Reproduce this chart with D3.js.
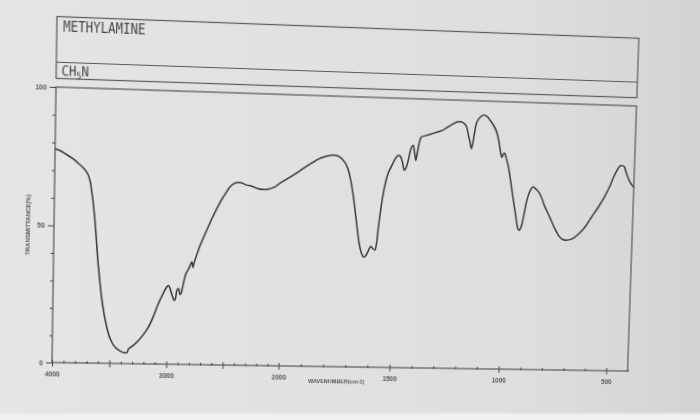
<!DOCTYPE html>
<html>
<head>
<meta charset="utf-8">
<title>methylamine IR</title>
<script src="https://d3js.org/d3.v7.min.js"></script>
<style>
  html, body { margin: 0; padding: 0; }
  body {
    width: 700px; height: 420px; overflow: hidden; position: relative;
    background:
      linear-gradient(to bottom, rgba(244,244,243,0) 412px, #f1f1f0 415px),
      linear-gradient(to right, #e4e6e3 0%, #dddfdc 75%, #d2d4d1 100%);
  }
  #mainsvg { position: absolute; left: 0; top: 0; transform-origin: 0 0; }
</style>
</head>
<body>
<svg width="800" height="520" id="mainsvg"></svg>
<script>
  // spectrum: wavenumber (cm-1) -> transmittance (%)
  const wavenumbers = [4000, 3950, 3910, 3850, 3805, 3750, 3714, 3690, 3682, 3665, 3650, 3637, 3611, 3590, 3577,
    3550, 3527, 3495, 3464, 3430, 3403, 3370, 3345, 3335, 3300, 3254, 3210, 3163, 3120, 3080, 3040, 3005, 2990,
    2975, 2955, 2940, 2930, 2915, 2902, 2890, 2880, 2870, 2860, 2840, 2820, 2805, 2790, 2780, 2770, 2740, 2715,
    2670, 2629, 2585, 2543, 2500, 2455, 2410, 2367, 2320, 2278, 2220, 2157, 2110, 2066, 2020, 1975, 1940, 1900,
    1870, 1844, 1810, 1784, 1760, 1745, 1723, 1710, 1700, 1685, 1667, 1651, 1640, 1630, 1622, 1612, 1603, 1598,
    1590, 1580, 1572, 1566, 1548, 1529, 1510, 1498, 1485, 1475, 1465, 1456, 1448, 1439, 1427, 1419, 1412, 1405,
    1398, 1390, 1383, 1360, 1324, 1290, 1265, 1240, 1220, 1195, 1180, 1170, 1160, 1154, 1148, 1140, 1132, 1115,
    1100, 1085, 1070, 1055, 1040, 1030, 1020, 1014, 1008, 1002, 995, 982, 963, 944, 930, 924, 916, 905, 893,
    880, 866, 852, 835, 810, 786, 760, 737, 720, 707, 680, 655, 620, 591, 560, 535, 510, 495, 480, 467, 455,
    448, 440, 427, 415, 400];
  const transmittance = [77.7, 77, 76, 74.5, 73, 71, 69, 66, 64, 59.3, 54, 48.4, 36.3, 28.5, 24.1,
    17.5, 13.2, 9, 6.6, 5.2, 4.5, 4.0, 4.1, 5.3, 6.5, 8.3, 10.5, 13.5, 17.5, 22.1, 25.8, 28.5, 28.9,
    27.5, 25, 23.5, 24, 27.5, 27.9, 25.8, 26.1, 27.9, 30, 33.5, 35, 36.5, 37.8, 35.8, 37.5, 41.5, 44.4,
    49, 53, 57, 60.5, 63.5, 66.2, 67.3, 67.3, 66.5, 66.2, 65.3, 65, 65.4, 66.1, 67.6, 69.4, 71.3, 73.7,
    75.3, 76.7, 77.8, 78.3, 78.2, 77.6, 75.7, 73.5, 70.7, 64.7, 54.7, 46, 42.5, 41, 41.3, 42.8, 44.5, 45,
    44.3, 43.6, 46.5, 52.3, 64.7, 72.1, 75.6, 77.6, 78.9, 78.6, 76.5, 73.5, 74.5, 77.2, 81.8, 82.8, 80.5, 77.3,
    80.5, 84.3, 85.9, 86.6, 87.6, 88.6, 89.9, 91.2, 92.0, 91.8, 90.5, 87.5, 84, 82.2, 84.5, 89, 92.2, 94.2,
    94.8, 94.2, 92.7, 91, 88.5, 85.5, 81, 79.3, 80.5, 80.9, 79.5, 75.8, 67.1, 58.5, 52.8, 52.3, 53.5, 58, 63.6,
    67, 68.6, 67.8, 66.2, 61.5, 57.6, 53.2, 50.2, 49.2, 49, 49.5, 51, 54.2, 58, 62, 65.6, 70, 73.3, 75.8, 77.4, 77.5,
    77.2, 75.5, 72.8, 71, 69.5];
  const xTickLabels = [4000, 3000, 2000, 1500, 1000, 500];
  const yTickLabels = [0, 50, 100];
  const compoundName = 'METHYLAMINE';
  const xTitle = 'WAVENUMBER(cm-1)';
  const yTitle = 'TRANSMITTANCE(%)';

  const svg = d3.select('#mainsvg');
  const W = 580, H = 275, M = 100;
  const g = svg.append('g').attr('transform', `translate(${M},${M})`);

  // 4000-2000 drawn at half the scale of 2000-400
  const x = d3.scaleLinear().domain([4000, 2000, 400]).range([0, W * 2 / 5.2, W]);
  const y = d3.scaleLinear().domain([0, 100]).range([H, 0]);

  const ink = '#4a4a4a';
  const tickFont = "bold 6.5px 'Liberation Sans', Arial, sans-serif";

  // header box
  g.append('rect').attr('x', 0).attr('y', -69.5).attr('width', W).attr('height', 61)
    .attr('fill', 'none').attr('stroke', '#5a5a5a').attr('stroke-width', 1.2);
  g.append('line').attr('x1', 0).attr('x2', W).attr('y1', -24.5).attr('y2', -24.5)
    .attr('stroke', '#5a5a5a').attr('stroke-width', 1.2);
  g.append('text').attr('transform', 'translate(6,-55) scale(1,1.25)')
    .style('font', "12px 'DejaVu Sans Mono', monospace").attr('fill', '#444')
    .text(compoundName);
  const formula = g.append('text').attr('transform', 'translate(5,-11.5) scale(1,1.15)')
    .style('font', "12px 'DejaVu Sans Mono', monospace").attr('fill', '#444');
  formula.append('tspan').text('CH');
  formula.append('tspan').attr('dy', 2.5).style('font-size', '8px').text('5');
  formula.append('tspan').attr('dy', -2.5).text('N');

  // frame
  g.append('rect').attr('x', 0).attr('y', 0).attr('width', W).attr('height', H)
    .attr('fill', 'none').attr('stroke', '#555').attr('stroke-width', 1.2);

  // x axis
  const xAxis = d3.axisBottom(x)
    .tickValues(d3.range(4000, 399, -100))
    .tickFormat(d => xTickLabels.includes(d) ? d : '')
    .tickSizeOuter(0);
  const gx = g.append('g').attr('transform', `translate(0,${H})`).call(xAxis);
  gx.select('.domain').remove();
  gx.selectAll('.tick line')
    .attr('y1', d => d % 500 === 0 ? -3 : -2)
    .attr('y2', d => d % 500 === 0 ? 4 : 1)
    .attr('stroke', ink);
  gx.selectAll('.tick text').attr('y', 9).attr('dy', '0.71em')
    .style('font', tickFont).attr('fill', '#555');

  // y axis
  const yAxis = d3.axisLeft(y)
    .tickValues(d3.range(0, 101, 10))
    .tickFormat(d => yTickLabels.includes(d) ? d : '')
    .tickSizeOuter(0);
  const gy = g.append('g').call(yAxis);
  gy.select('.domain').remove();
  gy.selectAll('.tick line')
    .attr('x2', d => d % 50 === 0 ? -6 : -3)
    .attr('stroke', ink);
  gy.selectAll('.tick text').attr('x', -9)
    .style('font', tickFont).attr('fill', '#555');

  // axis titles
  g.append('text').attr('x', W * 0.485).attr('y', H + 17).attr('text-anchor', 'middle')
    .style('font', "bold 5.5px 'Liberation Sans', Arial, sans-serif").attr('fill', '#555')
    .text(xTitle);
  g.append('text').attr('transform', `translate(-23,${H / 2}) rotate(-90)`).attr('text-anchor', 'middle')
    .style('font', "bold 6px 'Liberation Sans', Arial, sans-serif").attr('fill', '#555')
    .text(yTitle);

  // spectrum
  const pts = wavenumbers.map((w, i) => [w, transmittance[i]]);
  const line = d3.line().x(d => x(d[0])).y(d => y(d[1])).curve(d3.curveCatmullRom.alpha(0.5));
  g.append('path').datum(pts).attr('d', line)
    .attr('fill', 'none').attr('stroke', '#383838').attr('stroke-width', 1.5);

  // photo was taken at an angle: project the flat chart onto the measured corners
  function homography(src, dst) {
    const A = [], b = [];
    for (let i = 0; i < 4; i++) {
      const [sx, sy] = src[i], [u, v] = dst[i];
      A.push([sx, sy, 1, 0, 0, 0, -sx * u, -sy * u]); b.push(u);
      A.push([0, 0, 0, sx, sy, 1, -sx * v, -sy * v]); b.push(v);
    }
    for (let c = 0; c < 8; c++) {
      let p = c;
      for (let r = c + 1; r < 8; r++) if (Math.abs(A[r][c]) > Math.abs(A[p][c])) p = r;
      [A[c], A[p]] = [A[p], A[c]]; [b[c], b[p]] = [b[p], b[c]];
      for (let r = 0; r < 8; r++) {
        if (r === c) continue;
        const f = A[r][c] / A[c][c];
        for (let k = c; k < 8; k++) A[r][k] -= f * A[c][k];
        b[r] -= f * b[c];
      }
    }
    return b.map((v, i) => v / A[i][i]);
  }
  const h = homography(
    [[M, M], [M + W, M], [M, M + H], [M + W, M + H]],
    [[56, 87], [636.5, 106], [52, 362.5], [627.5, 371]]
  );
  svg.style('transform',
    `matrix3d(${h[0]},${h[3]},0,${h[6]},${h[1]},${h[4]},0,${h[7]},0,0,1,0,${h[2]},${h[5]},0,1)`);
</script>
</body>
</html>
